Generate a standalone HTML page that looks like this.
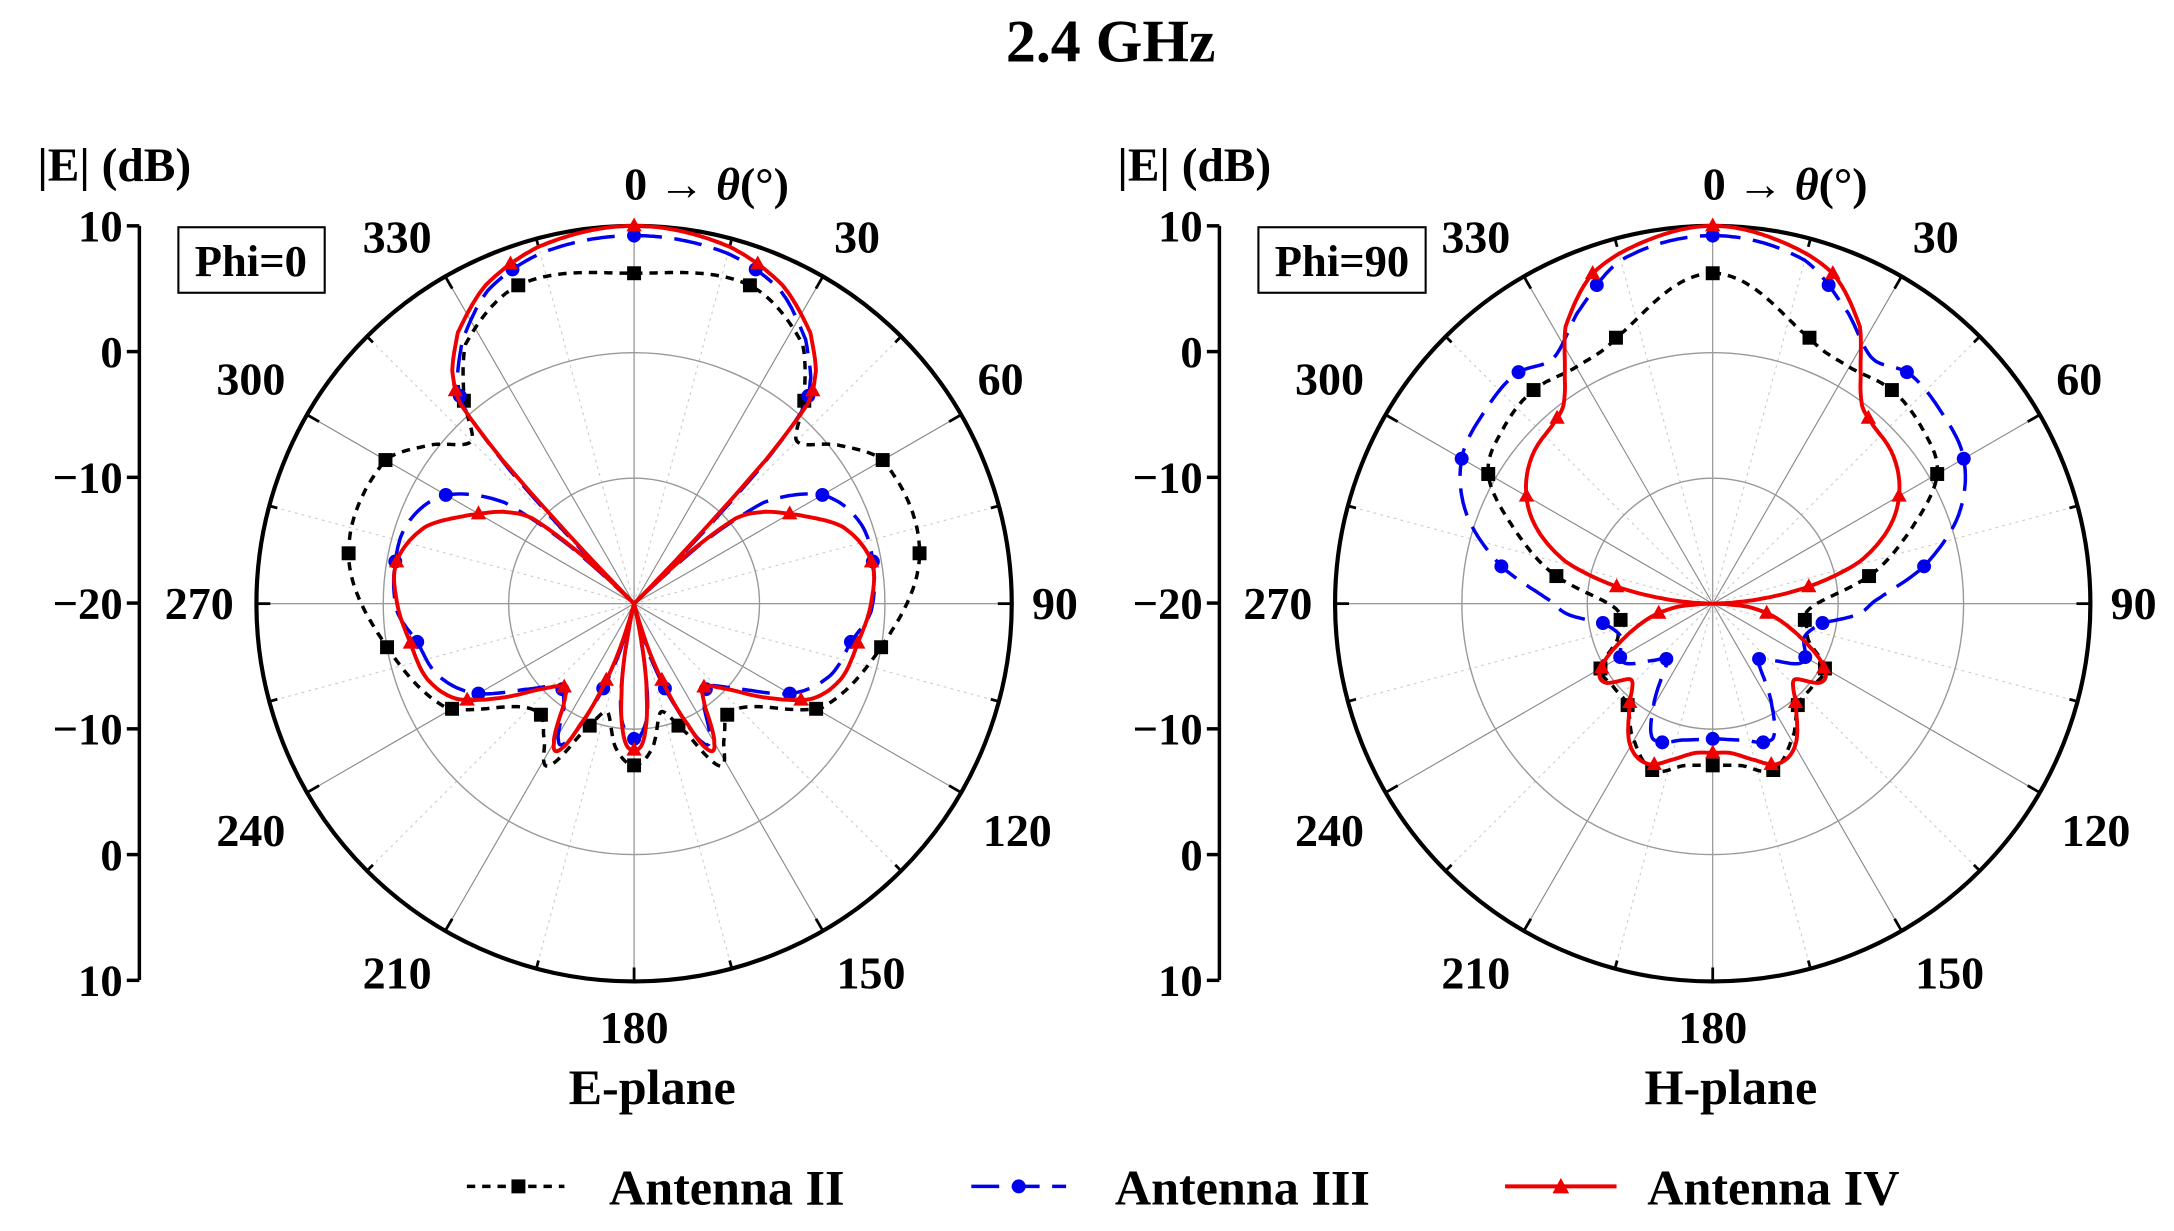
<!DOCTYPE html>
<html><head><meta charset="utf-8"><style>
html,body{margin:0;padding:0;background:#fff;}
svg{display:block;}
text{font-family:"Liberation Serif",serif;font-weight:bold;fill:#000;}
</style></head><body>
<svg id="s" width="2174" height="1231" viewBox="0 0 1560 883" preserveAspectRatio="none" xmlns="http://www.w3.org/2000/svg">
<text x="797" y="44" font-size="43" text-anchor="middle">2.4 GHz</text>
<g id="g"></g>
</svg>
<script>
var NS="http://www.w3.org/2000/svg",g=document.getElementById('g');
function el(t,a,p){var e=document.createElementNS(NS,t);for(var k in a)e.setAttribute(k,a[k]);(p||g).appendChild(e);return e;}
function txt(x,y,s,sz,anc){var e=el('text',{x:x,y:y,'font-size':sz,'text-anchor':anc||'middle'});e.textContent=s;return e;}
var R=271;
function P(cx,cy,a,r){var t=a*Math.PI/180;return [cx+r*Math.sin(t),cy-r*Math.cos(t)];}
function interp(list,a){
  for(var i=0;i<list.length-1;i++){if(a>=list[i][0]&&a<=list[i+1][0])break;}
  if(i>=list.length-1)i=list.length-2;
  var p0=list[Math.max(i-1,0)],p1=list[i],p2=list[i+1],p3=list[Math.min(i+2,list.length-1)];
  var t=(a-p1[0])/(p2[0]-p1[0]||1);
  var t2=t*t,t3=t2*t;
  var v=0.5*((2*p1[1])+(-p0[1]+p2[1])*t+(2*p0[1]-5*p1[1]+4*p2[1]-p3[1])*t2+(-p0[1]+3*p1[1]-3*p2[1]+p3[1])*t3);
  return Math.max(0,v);
}
function full(half){var l=[];half.forEach(function(p){l.push(p);});for(var i=half.length-2;i>=0;i--)l.push([360-half[i][0],half[i][1]]);
  return [[-half[1][0],half[1][1]]].concat(l).concat([[360+half[1][0],half[1][1]]]);}
function curve(cx,cy,half,style,mk){
  var l=full(half),d='';
  for(var a=0;a<=360;a+=0.5){var r=interp(l,a),p=P(cx,cy,a,r);d+=(a?'L':'M')+p[0].toFixed(1)+' '+p[1].toFixed(1);}
  el('path',Object.assign({d:d,fill:'none'},style));
  for(var a=0;a<360;a+=20){var r=interp(l,a),p=P(cx,cy,a,r);
    if(mk=='s')el('rect',{x:p[0]-5,y:p[1]-5,width:10,height:10,fill:'#000'});
    else if(mk=='c')el('circle',{cx:p[0],cy:p[1],r:5,fill:'#0000ee'});
    else el('polygon',{points:(p[0])+','+(p[1]-6)+' '+(p[0]-5.5)+','+(p[1]+4)+' '+(p[0]+5.5)+','+(p[1]+4),fill:'#ee0000'});}
}
function polar(cx,cy,ax,phi,plane){
  for(var a=0;a<360;a+=15){var p=P(cx,cy,a,R);
    if(a%30==0)el('line',{x1:cx,y1:cy,x2:p[0],y2:p[1],stroke:'#888','stroke-width':0.8});
    else el('line',{x1:cx,y1:cy,x2:p[0],y2:p[1],stroke:'#ccc','stroke-width':0.8,'stroke-dasharray':'2,3'});
    var q=P(cx,cy,a,R-(a%30==0?10:6));el('line',{x1:q[0],y1:q[1],x2:p[0],y2:p[1],stroke:'#000','stroke-width':2});}
  el('circle',{cx:cx,cy:cy,r:90,fill:'none',stroke:'#999','stroke-width':1});
  el('circle',{cx:cx,cy:cy,r:180,fill:'none',stroke:'#999','stroke-width':1});
  el('circle',{cx:cx,cy:cy,r:R,fill:'none',stroke:'#000','stroke-width':3});
  el('line',{x1:ax,y1:162,x2:ax,y2:703,stroke:'#000','stroke-width':2.5});
  var labs=['10','0','\u221210','\u221220','\u221210','0','10'];
  for(var i=0;i<7;i++){var y=162+i*90.2;el('line',{x1:ax-9,y1:y,x2:ax,y2:y,stroke:'#000','stroke-width':2.5});txt(ax-12,y+11,labs[i],32,'end');}
  txt(ax-18,130,'|E| (dB)',34,'middle');
  var al=[[330,-170,-263],[30,160,-263],[300,-275,-161],[60,263,-161],[270,-312,0],[90,302,0],[240,-275,163],[120,275,163],[210,-170,265],[150,170,265],[180,0,304]];
  al.forEach(function(v){txt(cx+v[1],cy+v[2]+11,String(v[0]),33);});
  var t=txt(cx+52,143,'',33);t.innerHTML='0 \u2192 <tspan font-style="italic">\u03b8</tspan>(\u00b0)';
  el('rect',{x:ax+28,y:163,width:phi=='Phi=0'?105:120,height:47,fill:'#fff',stroke:'#000','stroke-width':1.5});
  txt(ax+28+(phi=='Phi=0'?52:60),198,phi,32);
  txt(cx+13,792,plane,36);
}
polar(455,433,100,'Phi=0','E-plane');
polar(1229,433,875,'Phi=90','H-plane');
var BK={stroke:'#000','stroke-width':2.5,'stroke-dasharray':'6,5'},BL={stroke:'#0000ee','stroke-width':2.5,'stroke-dasharray':'20,9'},RD={stroke:'#ee0000','stroke-width':2.8};
curve(455,433,[[0,237],[20,243],[33,222],[40,190],[45,165],[52,185],[60,206],[80,208],[100,180],[119,154],[130,115],[140,104],[147,118],[152,132],[158,100],[166,80],[173,105],[180,116]],BK,'s');
curve(455,433,[[0,264],[15,260],[25,248],[33,226],[38,206],[41,185],[43,130],[44.5,50],[46,0],[48,60],[52,118],[60,156],[70,172],[80,174],[92,170],[100,158],[110,150],[119,132],[128,100],[138,80],[146,90],[151,112],[154,110],[158,80],[163,40],[167,0],[172,70],[177,94],[180,97]],BL,'c');
curve(455,433,[[0,271],[15,265],[25,252],[33,232],[38,212],[41,190],[42.5,140],[43.5,70],[45,0],[47,50],[50,95],[55,115],[62,135],[70,160],[80,173],[90,170],[100,163],[110,158],[118,145],[125,118],[132,92],[140,78],[145,88],[150,115],[153,118],[156,95],[162,40],[166,0],[172,65],[176,98],[180,105]],RD,'t');
curve(1229,433,[[0,237],[20,203],[30,196],[40,200],[50,196],[60,186],[70,150],[79,118],[88,80],[96,67],[105,70],[112,75],[120,93],[130,93],[140,95],[148,110],[160,127],[170,118],[180,116]],BK,'s');
curve(1229,433,[[0,264],[15,255],[25,230],[33,210],[40.5,217],[50,214],[60,208],[70,188],[80,154],[88,120],[94,105],[100,80],[110,70],[123,77],[133,60],[142,53],[150,85],[156,106],[168,100],[180,97]],BL,'c');
curve(1229,433,[[0,271],[10,265],[20,252],[28,225],[33,195],[37,178],[42,172],[50,168],[58,158],[66,140],[74,110],[80,70],[85,30],[89,3],[91,3],[95,25],[102,45],[110,65],[120,92],[126,96],[133,80],[141,95],[150,118],[158,124],[166,115],[173,108],[180,107]],RD,'t');
function leg(x1,x2,st,mk,label,tx){el('line',Object.assign({x1:x1,y1:851,x2:x2,y2:851},st));var m=(x1+x2)/2+(mk=='s'?2:0);
  if(mk=='s')el('rect',{x:m-5,y:846,width:10,height:10,fill:'#000'});else if(mk=='c')el('circle',{cx:m,cy:851,r:5,fill:'#0000ee'});else el('polygon',{points:m+',845 '+(m-6)+',856 '+(m+6)+',856',fill:'#ee0000'});
  txt(tx,864,label,36,'start');}
leg(335,405,{stroke:'#000','stroke-width':2.5,'stroke-dasharray':'6,5'},'s','Antenna II',437);
leg(697,765,{stroke:'#0000ee','stroke-width':2.5,'stroke-dasharray':'20,9'},'c','Antenna III',800);
leg(1080,1160,{stroke:'#ee0000','stroke-width':2.8},'t','Antenna IV',1182);
</script>
</body></html>
